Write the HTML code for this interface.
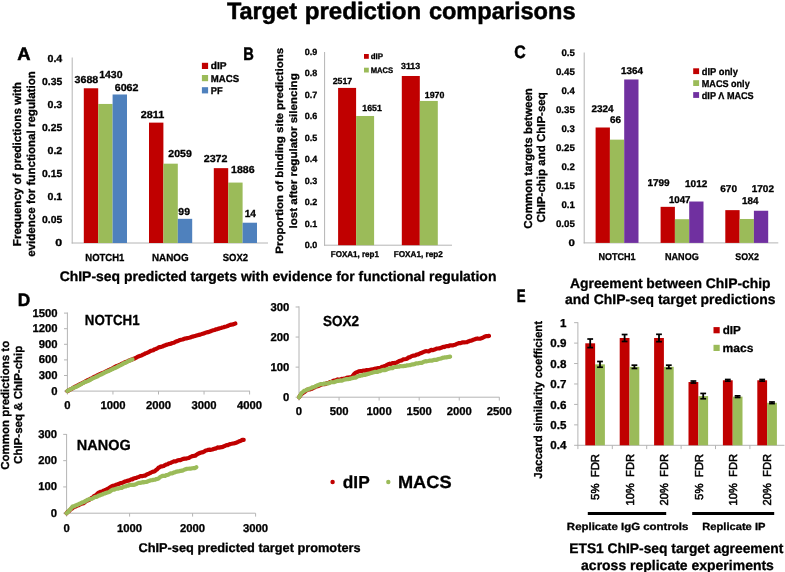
<!DOCTYPE html>
<html lang="en"><head><meta charset="utf-8"><title>Target prediction comparisons</title>
<style>
html,body{margin:0;padding:0;background:#fff;}
svg{display:block;font-family:'Liberation Sans', Arial, sans-serif;font-weight:bold;}
text{stroke:#000;stroke-width:0.3px;text-rendering:geometricPrecision;}
</style></head>
<body>
<svg width="785" height="572" viewBox="0 0 785 572">
<rect width="785" height="572" fill="#fff"/>
<text x="226.89" y="18.72" font-size="23.8" style="stroke-width:0.5px" textLength="70.13" lengthAdjust="spacingAndGlyphs">Target</text>
<text x="304.69" y="18.72" font-size="23.8" style="stroke-width:0.5px" textLength="116.43" lengthAdjust="spacingAndGlyphs">prediction</text>
<text x="428.89" y="18.72" font-size="23.8" style="stroke-width:0.5px" textLength="146.63" lengthAdjust="spacingAndGlyphs">comparisons</text>
<text x="17.36" y="59.84" font-size="18" style="stroke-width:0.5px" textLength="13.28" lengthAdjust="spacingAndGlyphs">A</text>
<line x1="72.2" y1="57.5" x2="72.2" y2="243.5" stroke="#b4b4b4" stroke-width="1"/>
<line x1="71.7" y1="243" x2="268" y2="243" stroke="#b4b4b4" stroke-width="1"/>
<text x="55.39" y="246.45" font-size="10.2" textLength="6.91" lengthAdjust="spacingAndGlyphs">0</text>
<text x="42.09" y="223.39" font-size="10.2" textLength="20.21" lengthAdjust="spacingAndGlyphs">0.05</text>
<text x="47.49" y="200.33" font-size="10.2" textLength="14.81" lengthAdjust="spacingAndGlyphs">0.1</text>
<text x="42.09" y="177.27" font-size="10.2" textLength="20.21" lengthAdjust="spacingAndGlyphs">0.15</text>
<text x="47.49" y="154.21" font-size="10.2" textLength="14.81" lengthAdjust="spacingAndGlyphs">0.2</text>
<text x="42.09" y="131.15" font-size="10.2" textLength="20.21" lengthAdjust="spacingAndGlyphs">0.25</text>
<text x="47.49" y="108.09" font-size="10.2" textLength="14.81" lengthAdjust="spacingAndGlyphs">0.3</text>
<text x="42.09" y="85.03" font-size="10.2" textLength="20.21" lengthAdjust="spacingAndGlyphs">0.35</text>
<text x="47.49" y="61.97" font-size="10.2" textLength="14.81" lengthAdjust="spacingAndGlyphs">0.4</text>
<rect x="83.8" y="88.27" width="14.4" height="154.73" fill="#C00000"/>
<rect x="98.2" y="103.95" width="14.4" height="139.05" fill="#9BBB59"/>
<rect x="112.6" y="94.49" width="14.4" height="148.51" fill="#4F81BD"/>
<rect x="149" y="122.63" width="14.4" height="120.37" fill="#C00000"/>
<rect x="163.4" y="163.67" width="14.4" height="79.33" fill="#9BBB59"/>
<rect x="177.8" y="218.83" width="14.4" height="24.17" fill="#4F81BD"/>
<rect x="213.8" y="168.15" width="14.4" height="74.85" fill="#C00000"/>
<rect x="228.2" y="182.58" width="14.4" height="60.42" fill="#9BBB59"/>
<rect x="242.6" y="222.71" width="14.4" height="20.29" fill="#4F81BD"/>
<text x="74.59" y="83.25" font-size="10.2" textLength="23.71" lengthAdjust="spacingAndGlyphs">3688</text>
<text x="99.19" y="77.55" font-size="10.2" textLength="23.31" lengthAdjust="spacingAndGlyphs">1430</text>
<text x="114.69" y="91.45" font-size="10.2" textLength="23.81" lengthAdjust="spacingAndGlyphs">6062</text>
<text x="140.69" y="118.15" font-size="10.2" textLength="23.51" lengthAdjust="spacingAndGlyphs">2811</text>
<text x="168.39" y="157.35" font-size="10.2" textLength="23.41" lengthAdjust="spacingAndGlyphs">2059</text>
<text x="178.39" y="214.65" font-size="10.2" textLength="11.61" lengthAdjust="spacingAndGlyphs">99</text>
<text x="203.69" y="162.25" font-size="10.2" textLength="23.81" lengthAdjust="spacingAndGlyphs">2372</text>
<text x="230.99" y="173.35" font-size="10.2" textLength="23.61" lengthAdjust="spacingAndGlyphs">1886</text>
<text x="244.69" y="217.45" font-size="10.2" textLength="11.31" lengthAdjust="spacingAndGlyphs">14</text>
<text x="85.29" y="261.49" font-size="10.3" textLength="39.02" lengthAdjust="spacingAndGlyphs">NOTCH1</text>
<text x="151.99" y="261.49" font-size="10.3" textLength="36.62" lengthAdjust="spacingAndGlyphs">NANOG</text>
<text x="222.79" y="261.49" font-size="10.3" textLength="25.22" lengthAdjust="spacingAndGlyphs">SOX2</text>
<rect x="201.9" y="62.8" width="6.2" height="6.2" fill="#C00000"/>
<text x="210.8" y="69.48" font-size="10" textLength="15.8" lengthAdjust="spacingAndGlyphs">dIP</text>
<rect x="201.9" y="75" width="6.2" height="6.2" fill="#9BBB59"/>
<text x="210.8" y="81.68" font-size="10" textLength="28.3" lengthAdjust="spacingAndGlyphs">MACS</text>
<rect x="201.9" y="87.2" width="6.2" height="6.2" fill="#4F81BD"/>
<text x="210.8" y="93.88" font-size="10" textLength="11.9" lengthAdjust="spacingAndGlyphs">PF</text>
<text transform="translate(21 164) rotate(-90)" font-size="11.5" text-anchor="middle" textLength="164.3" lengthAdjust="spacingAndGlyphs">Frequency of predictions with</text>
<text transform="translate(35.3 164) rotate(-90)" font-size="11.5" text-anchor="middle" textLength="185.5" lengthAdjust="spacingAndGlyphs">evidence for functional regulation</text>
<text x="59.68" y="280.98" font-size="13.9" textLength="436.73" lengthAdjust="spacingAndGlyphs">ChIP-seq predicted targets with evidence for functional regulation</text>
<text x="243.16" y="59.84" font-size="18" style="stroke-width:0.5px" textLength="10.58" lengthAdjust="spacingAndGlyphs">B</text>
<line x1="324.6" y1="52" x2="324.6" y2="245.7" stroke="#b4b4b4" stroke-width="1"/>
<line x1="324.1" y1="245.2" x2="452" y2="245.2" stroke="#b4b4b4" stroke-width="1"/>
<text x="317.3" y="248.42" font-size="9" text-anchor="end">0.0</text>
<text x="317.3" y="226.92" font-size="9" text-anchor="end">0.1</text>
<text x="317.3" y="205.42" font-size="9" text-anchor="end">0.2</text>
<text x="317.3" y="183.92" font-size="9" text-anchor="end">0.3</text>
<text x="317.3" y="162.42" font-size="9" text-anchor="end">0.4</text>
<text x="317.3" y="140.92" font-size="9" text-anchor="end">0.5</text>
<text x="317.3" y="119.42" font-size="9" text-anchor="end">0.6</text>
<text x="317.3" y="97.92" font-size="9" text-anchor="end">0.7</text>
<text x="317.3" y="76.42" font-size="9" text-anchor="end">0.8</text>
<text x="317.3" y="54.92" font-size="9" text-anchor="end">0.9</text>
<rect x="338.1" y="87.91" width="18" height="157.29" fill="#C00000"/>
<rect x="356.1" y="115.98" width="18" height="129.22" fill="#9BBB59"/>
<rect x="401.8" y="75.99" width="18" height="169.21" fill="#C00000"/>
<rect x="419.8" y="100.94" width="18" height="144.26" fill="#9BBB59"/>
<text x="342.45" y="84.05" font-size="8.8" text-anchor="middle">2517</text>
<text x="372.1" y="110.85" font-size="8.8" text-anchor="middle">1651</text>
<text x="410.6" y="68.85" font-size="8.8" text-anchor="middle">3113</text>
<text x="434.6" y="98.05" font-size="8.8" text-anchor="middle">1970</text>
<text x="330.75" y="256.64" font-size="8.5" textLength="48.21" lengthAdjust="spacingAndGlyphs">FOXA1, rep1</text>
<text x="393.75" y="256.64" font-size="8.5" textLength="49.11" lengthAdjust="spacingAndGlyphs">FOXA1, rep2</text>
<rect x="364" y="54" width="4.8" height="4.8" fill="#C00000"/>
<text x="370.66" y="59.3" font-size="8.1" textLength="12.29" lengthAdjust="spacingAndGlyphs">dIP</text>
<rect x="364" y="67.7" width="4.8" height="4.8" fill="#9BBB59"/>
<text x="370.66" y="73" font-size="8.1" textLength="22.49" lengthAdjust="spacingAndGlyphs">MACS</text>
<text transform="translate(282.5 150.8) rotate(-90)" font-size="10.6" text-anchor="middle" textLength="205.8" lengthAdjust="spacingAndGlyphs">Proportion of binding site predictions</text>
<text transform="translate(296.5 150.9) rotate(-90)" font-size="10.7" text-anchor="middle" textLength="155.2" lengthAdjust="spacingAndGlyphs">lost after regulator silencing</text>
<text x="514.26" y="57.64" font-size="18" style="stroke-width:0.5px" textLength="11.48" lengthAdjust="spacingAndGlyphs">C</text>
<line x1="584.2" y1="52.5" x2="584.2" y2="243.4" stroke="#b4b4b4" stroke-width="1"/>
<line x1="583.7" y1="242.9" x2="778.3" y2="242.9" stroke="#b4b4b4" stroke-width="1"/>
<text x="568.41" y="246.14" font-size="9.6" textLength="6.38" lengthAdjust="spacingAndGlyphs">0</text>
<text x="555.91" y="227.16" font-size="9.6" textLength="18.88" lengthAdjust="spacingAndGlyphs">0.05</text>
<text x="561.41" y="208.18" font-size="9.6" textLength="13.38" lengthAdjust="spacingAndGlyphs">0.1</text>
<text x="555.91" y="189.2" font-size="9.6" textLength="18.88" lengthAdjust="spacingAndGlyphs">0.15</text>
<text x="561.41" y="170.22" font-size="9.6" textLength="13.38" lengthAdjust="spacingAndGlyphs">0.2</text>
<text x="555.91" y="151.24" font-size="9.6" textLength="18.88" lengthAdjust="spacingAndGlyphs">0.25</text>
<text x="561.41" y="132.26" font-size="9.6" textLength="13.38" lengthAdjust="spacingAndGlyphs">0.3</text>
<text x="555.91" y="113.28" font-size="9.6" textLength="18.88" lengthAdjust="spacingAndGlyphs">0.35</text>
<text x="561.41" y="94.3" font-size="9.6" textLength="13.38" lengthAdjust="spacingAndGlyphs">0.4</text>
<text x="555.91" y="75.32" font-size="9.6" textLength="18.88" lengthAdjust="spacingAndGlyphs">0.45</text>
<text x="561.41" y="56.34" font-size="9.6" textLength="13.38" lengthAdjust="spacingAndGlyphs">0.5</text>
<rect x="595.6" y="127.5" width="14.3" height="115.4" fill="#C00000"/>
<rect x="609.9" y="139.65" width="14.3" height="103.25" fill="#9BBB59"/>
<rect x="624.2" y="79.48" width="14.3" height="163.42" fill="#7030A0"/>
<rect x="660.6" y="206.84" width="14.3" height="36.06" fill="#C00000"/>
<rect x="674.9" y="219.21" width="14.3" height="23.69" fill="#9BBB59"/>
<rect x="689.2" y="201.52" width="14.3" height="41.38" fill="#7030A0"/>
<rect x="725.3" y="210.14" width="14.3" height="32.76" fill="#C00000"/>
<rect x="739.6" y="218.99" width="14.3" height="23.91" fill="#9BBB59"/>
<rect x="753.9" y="210.75" width="14.3" height="32.15" fill="#7030A0"/>
<text x="591.51" y="111.91" font-size="9.8" textLength="22.09" lengthAdjust="spacingAndGlyphs">2324</text>
<text x="609.91" y="123.31" font-size="9.8" textLength="11.09" lengthAdjust="spacingAndGlyphs">66</text>
<text x="621.11" y="74.31" font-size="9.8" textLength="21.99" lengthAdjust="spacingAndGlyphs">1364</text>
<text x="647.41" y="186.41" font-size="9.8" textLength="22.29" lengthAdjust="spacingAndGlyphs">1799</text>
<text x="668.91" y="202.91" font-size="9.8" textLength="21.59" lengthAdjust="spacingAndGlyphs">1047</text>
<text x="685.01" y="187.21" font-size="9.8" textLength="22.29" lengthAdjust="spacingAndGlyphs">1012</text>
<text x="720.21" y="192.21" font-size="9.8" textLength="16.79" lengthAdjust="spacingAndGlyphs">670</text>
<text x="742.11" y="203.71" font-size="9.8" textLength="16.49" lengthAdjust="spacingAndGlyphs">184</text>
<text x="751.71" y="192.21" font-size="9.8" textLength="22.29" lengthAdjust="spacingAndGlyphs">1702</text>
<text x="598.51" y="260.21" font-size="9.8" textLength="37.09" lengthAdjust="spacingAndGlyphs">NOTCH1</text>
<text x="665.01" y="260.21" font-size="9.8" textLength="33.79" lengthAdjust="spacingAndGlyphs">NANOG</text>
<text x="735.31" y="260.21" font-size="9.8" textLength="23.59" lengthAdjust="spacingAndGlyphs">SOX2</text>
<rect x="693.2" y="68.3" width="5.9" height="5.8" fill="#C00000"/>
<text x="701.81" y="74.71" font-size="9.8" textLength="36.09" lengthAdjust="spacingAndGlyphs">dIP only</text>
<rect x="693.2" y="80.2" width="5.9" height="5.8" fill="#9BBB59"/>
<text x="701.81" y="86.61" font-size="9.8" textLength="47.89" lengthAdjust="spacingAndGlyphs">MACS only</text>
<rect x="693.2" y="92.1" width="5.9" height="5.8" fill="#7030A0"/>
<text x="701.81" y="98.51" font-size="9.8" textLength="51.89" lengthAdjust="spacingAndGlyphs">dIP Λ MACS</text>
<text transform="translate(531.6 158.4) rotate(-90)" font-size="11.5" text-anchor="middle">Common targets between</text>
<text transform="translate(544.9 157.4) rotate(-90)" font-size="11.5" text-anchor="middle">ChIP-chip and ChIP-seq</text>
<text x="569.98" y="287.68" font-size="13.9" textLength="200.63" lengthAdjust="spacingAndGlyphs">Agreement between ChIP-chip</text>
<text x="565.08" y="304.48" font-size="13.9" textLength="210.43" lengthAdjust="spacingAndGlyphs">and ChIP-seq target predictions</text>
<text x="17.86" y="306.44" font-size="18" style="stroke-width:0.5px" textLength="12.48" lengthAdjust="spacingAndGlyphs">D</text>
<line x1="67.4" y1="312.5" x2="67.4" y2="391.6" stroke="#b4b4b4" stroke-width="1"/>
<line x1="66.9" y1="391.1" x2="250" y2="391.1" stroke="#b4b4b4" stroke-width="1"/>
<line x1="64" y1="391.1" x2="67.4" y2="391.1" stroke="#b4b4b4" stroke-width="1"/>
<text x="57.6" y="394.65" font-size="11.3" text-anchor="end">0</text>
<line x1="64" y1="375.5" x2="67.4" y2="375.5" stroke="#b4b4b4" stroke-width="1"/>
<text x="57.6" y="379.05" font-size="11.3" text-anchor="end">300</text>
<line x1="64" y1="359.9" x2="67.4" y2="359.9" stroke="#b4b4b4" stroke-width="1"/>
<text x="57.6" y="363.45" font-size="11.3" text-anchor="end">600</text>
<line x1="64" y1="344.3" x2="67.4" y2="344.3" stroke="#b4b4b4" stroke-width="1"/>
<text x="57.6" y="347.85" font-size="11.3" text-anchor="end">900</text>
<line x1="64" y1="328.7" x2="67.4" y2="328.7" stroke="#b4b4b4" stroke-width="1"/>
<text x="57.6" y="332.25" font-size="11.3" text-anchor="end">1200</text>
<line x1="64" y1="313.1" x2="67.4" y2="313.1" stroke="#b4b4b4" stroke-width="1"/>
<text x="57.6" y="316.65" font-size="11.3" text-anchor="end">1500</text>
<line x1="67.4" y1="391.1" x2="67.4" y2="394.5" stroke="#b4b4b4" stroke-width="1"/>
<text x="67.4" y="409.15" font-size="11.3" text-anchor="middle">0</text>
<line x1="112.95" y1="391.1" x2="112.95" y2="394.5" stroke="#b4b4b4" stroke-width="1"/>
<text x="112.95" y="409.15" font-size="11.3" text-anchor="middle">1000</text>
<line x1="158.5" y1="391.1" x2="158.5" y2="394.5" stroke="#b4b4b4" stroke-width="1"/>
<text x="158.5" y="409.15" font-size="11.3" text-anchor="middle">2000</text>
<line x1="204.05" y1="391.1" x2="204.05" y2="394.5" stroke="#b4b4b4" stroke-width="1"/>
<text x="204.05" y="409.15" font-size="11.3" text-anchor="middle">3000</text>
<line x1="249.6" y1="391.1" x2="249.6" y2="394.5" stroke="#b4b4b4" stroke-width="1"/>
<text x="249.6" y="409.15" font-size="11.3" text-anchor="middle">4000</text>
<text x="84.86" y="325.13" font-size="14.6" textLength="54.68" lengthAdjust="spacingAndGlyphs">NOTCH1</text>
<path d="M67.4 391.1 L68.67 390.37 L69.93 389.64 L71.2 389.02 L72.46 388.38 L73.73 387.49 L74.99 386.67 L76.26 386.23 L77.52 385.45 L78.79 384.7 L80.05 384.3 L81.32 383.58 L82.58 383.03 L83.85 382.28 L85.11 381.64 L86.38 380.79 L87.64 380.22 L88.91 379.7 L90.18 378.97 L91.44 378.42 L92.71 377.82 L93.97 376.97 L95.24 376.51 L96.5 375.91 L97.77 375.2 L99.03 374.42 L100.3 374.06 L101.56 373.43 L102.83 372.9 L104.09 372.41 L105.36 371.8 L106.62 371.27 L107.89 370.5 L109.15 369.96 L110.42 369.25 L111.68 368.78 L112.95 368.23 L114.26 367.35 L115.56 366.61 L116.87 365.96 L118.17 365.64 L119.48 364.98 L120.78 364.42 L122.09 363.72 L123.4 363.14 L124.7 362.5 L126.01 361.87 L127.31 361.35 L128.62 360.79 L129.92 360.34 L131.23 359.73 L132.54 359.23 L133.83 358.69 L135.13 358.19 L136.43 357.54 L137.73 356.72 L139.03 356.29 L140.33 355.85 L141.62 355.32 L142.92 354.65 L144.22 354.08 L145.52 353.31 L146.82 352.89 L148.11 352.29 L149.41 351.6 L150.71 350.87 L152.01 350.54 L153.31 350.15 L154.61 349.33 L155.9 348.9 L157.2 348.26 L158.5 347.55 L159.77 347.09 L161.03 346.84 L162.3 346.54 L163.56 345.85 L164.83 345.51 L166.09 344.89 L167.36 344.63 L168.62 344.14 L169.89 343.89 L171.15 343.6 L172.42 343.05 L173.68 342.76 L174.95 342.12 L176.21 341.49 L177.48 341.15 L178.74 340.54 L180.01 340.08 L181.28 339.71 L182.54 339.47 L183.81 338.98 L185.07 338.51 L186.34 338.41 L187.6 337.97 L188.87 337.82 L190.13 337.55 L191.4 337.03 L192.66 336.61 L193.93 336.24 L195.19 335.91 L196.46 335.55 L197.72 335.18 L198.99 334.83 L200.25 334.6 L201.52 334.14 L202.78 333.68 L204.05 333.39 L205.36 332.82 L206.66 332.36 L207.97 332.19 L209.27 331.73 L210.58 331.3 L211.88 330.67 L213.19 330.3 L214.5 329.98 L215.8 329.4 L217.11 329.13 L218.41 328.81 L219.72 328.22 L221.02 327.94 L222.33 327.54 L223.64 327.22 L224.94 326.73 L226.25 326.42 L227.55 326.08 L228.86 325.42 L230.17 324.89 L231.47 324.66 L232.78 324.47 L234.08 323.89 L235.39 323.5" fill="none" stroke="#C00000" stroke-width="4.2" stroke-linecap="round" stroke-linejoin="round"/>
<path d="M67.4 391.1 L68.67 390.25 L69.93 389.67 L71.2 388.97 L72.46 388.26 L73.73 387.72 L74.99 387.34 L76.26 386.8 L77.52 386.2 L78.79 385.37 L80.05 384.76 L81.32 384.03 L82.58 383.3 L83.85 382.58 L85.11 381.95 L86.38 381.6 L87.64 381.08 L88.91 380.5 L90.18 379.89 L91.44 379.06 L92.71 378.37 L93.97 377.85 L95.24 377.33 L96.5 376.82 L97.77 376.28 L99.03 375.39 L100.3 374.84 L101.56 374.29 L102.83 373.64 L104.09 372.88 L105.36 372.31 L106.62 371.57 L107.89 371.23 L109.15 370.74 L110.42 370.07 L111.68 369.33 L112.95 368.9 L114.26 368.23 L115.56 367.71 L116.87 367.13 L118.17 366.39 L119.48 365.67 L120.78 365.06 L122.09 364.38 L123.4 363.62 L124.7 362.97 L126.01 362.54 L127.31 361.72 L128.62 360.98 L129.92 360.53 L131.23 359.86 L132.54 359.38" fill="none" stroke="#9BBB59" stroke-width="4.2" stroke-linecap="round" stroke-linejoin="round"/>
<line x1="299" y1="306.3" x2="299" y2="397.7" stroke="#b4b4b4" stroke-width="1"/>
<line x1="298.5" y1="397.2" x2="499.5" y2="397.2" stroke="#b4b4b4" stroke-width="1"/>
<line x1="295.6" y1="397.2" x2="299" y2="397.2" stroke="#b4b4b4" stroke-width="1"/>
<text x="289.3" y="400.75" font-size="11.3" text-anchor="end">0</text>
<line x1="295.6" y1="367.13" x2="299" y2="367.13" stroke="#b4b4b4" stroke-width="1"/>
<text x="289.3" y="370.68" font-size="11.3" text-anchor="end">100</text>
<line x1="295.6" y1="337.06" x2="299" y2="337.06" stroke="#b4b4b4" stroke-width="1"/>
<text x="289.3" y="340.61" font-size="11.3" text-anchor="end">200</text>
<line x1="295.6" y1="306.99" x2="299" y2="306.99" stroke="#b4b4b4" stroke-width="1"/>
<text x="289.3" y="310.54" font-size="11.3" text-anchor="end">300</text>
<line x1="299" y1="397.2" x2="299" y2="400.6" stroke="#b4b4b4" stroke-width="1"/>
<text x="299" y="414.65" font-size="11.3" text-anchor="middle">0</text>
<line x1="339.06" y1="397.2" x2="339.06" y2="400.6" stroke="#b4b4b4" stroke-width="1"/>
<text x="339.06" y="414.65" font-size="11.3" text-anchor="middle">500</text>
<line x1="379.12" y1="397.2" x2="379.12" y2="400.6" stroke="#b4b4b4" stroke-width="1"/>
<text x="379.12" y="414.65" font-size="11.3" text-anchor="middle">1000</text>
<line x1="419.18" y1="397.2" x2="419.18" y2="400.6" stroke="#b4b4b4" stroke-width="1"/>
<text x="419.18" y="414.65" font-size="11.3" text-anchor="middle">1500</text>
<line x1="459.24" y1="397.2" x2="459.24" y2="400.6" stroke="#b4b4b4" stroke-width="1"/>
<text x="459.24" y="414.65" font-size="11.3" text-anchor="middle">2000</text>
<line x1="499.3" y1="397.2" x2="499.3" y2="400.6" stroke="#b4b4b4" stroke-width="1"/>
<text x="499.3" y="414.65" font-size="11.3" text-anchor="middle">2500</text>
<text x="323.06" y="326.23" font-size="14.6" textLength="36.08" lengthAdjust="spacingAndGlyphs">SOX2</text>
<path d="M299 397.2 L300.2 395.67 L301.4 394.01 L302.74 393.22 L304.07 392.15 L305.41 391.27 L306.77 390.06 L308.13 389.57 L309.5 389.51 L310.86 389 L312.22 388.72 L313.58 387.65 L314.94 387.16 L316.31 386.48 L317.67 386.15 L319.03 385.78 L320.37 384.92 L321.7 384.44 L323.04 384.04 L324.37 384.21 L325.71 383.97 L327.04 383.11 L328.38 383.02 L329.71 382.19 L331.05 381.97 L332.38 381.22 L333.72 380.5 L335.05 380.71 L336.39 380.03 L337.72 379.47 L339.06 379.67 L340.4 379.61 L341.73 378.92 L343.07 379 L344.4 378.54 L345.74 378.27 L347.07 377.56 L348.41 377.7 L349.74 377.41 L351.08 377.37 L352.41 376.24 L353.75 374.55 L355.08 373.13 L356.42 372.43 L357.75 371.85 L359.09 371.28 L360.43 371.14 L361.76 371.21 L363.1 370.6 L364.43 370.75 L365.77 370.41 L367.1 370.08 L368.44 370.24 L369.77 369.91 L371.11 369.46 L372.44 369.24 L373.78 369.21 L375.11 368.49 L376.45 368.8 L377.78 368 L379.12 368.1 L380.46 367.92 L381.79 366.87 L383.13 366.77 L384.46 366.14 L385.8 365.77 L387.13 364.85 L388.47 364.17 L389.8 363.71 L391.14 363.94 L392.47 363.18 L393.81 363.06 L395.14 362.94 L396.48 362.68 L397.81 361.79 L399.15 361.1 L400.49 360.63 L401.82 360.37 L403.16 359.4 L404.49 359.22 L405.83 358.94 L407.16 358.61 L408.5 357.47 L409.83 357.43 L411.17 356.42 L412.5 355.86 L413.84 355.57 L415.17 355.46 L416.51 354.65 L417.84 354.51 L419.18 353.86 L420.52 353.22 L421.85 352.7 L423.19 352.13 L424.52 351.56 L425.86 351.15 L427.19 351.25 L428.53 351.42 L429.86 350.6 L431.2 349.88 L432.53 350.17 L433.87 349.76 L435.2 349.25 L436.54 348.66 L437.87 348.5 L439.21 348.45 L440.55 347.97 L441.88 347.53 L443.22 346.82 L444.55 347.05 L445.89 346.24 L447.22 346.07 L448.56 346.14 L449.89 345.4 L451.23 345.39 L452.56 345.43 L453.9 345.02 L455.23 344.8 L456.57 343.92 L457.9 343.58 L459.24 343 L460.54 343.15 L461.83 342.59 L463.13 342.28 L464.42 342.45 L465.72 342.27 L467.02 342.13 L468.31 341.44 L469.61 340.94 L470.9 340.74 L472.2 340.26 L473.49 339.67 L474.79 339.31 L476.09 338.73 L477.38 338.47 L478.68 338.73 L479.97 338.7 L481.27 338.24 L482.57 337.72 L483.86 337.15 L485.16 336.46 L486.45 336.1 L487.75 336.21 L489.04 335.86" fill="none" stroke="#C00000" stroke-width="4.2" stroke-linecap="round" stroke-linejoin="round"/>
<path d="M299 397.2 L300.2 395.53 L301.4 393.22 L302.81 392.07 L304.21 390.84 L305.61 390.38 L307.01 389.59 L308.35 389.29 L309.68 388.53 L311.02 388.21 L312.35 387.34 L313.69 387.07 L315.02 386.61 L316.36 385.81 L317.69 385.23 L319.03 384.79 L320.37 384.17 L321.7 384.05 L323.04 384.1 L324.37 383.54 L325.71 383.6 L327.04 383.42 L328.38 383.36 L329.71 382.76 L331.05 382.1 L332.38 382.27 L333.72 382.26 L335.05 381.82 L336.39 381.15 L337.72 380.77 L339.06 380.85 L340.35 380.4 L341.64 380.61 L342.94 380.26 L344.23 379.58 L345.52 379.47 L346.81 379.01 L348.11 379.13 L349.4 379.03 L350.69 378.49 L351.98 378.16 L353.27 377.89 L354.57 377.7 L355.86 377.61 L357.15 376.57 L358.44 376.16 L359.74 376 L361.03 375.51 L362.32 375.36 L363.61 374.69 L364.91 374.89 L366.2 374.54 L367.49 373.84 L368.78 373.81 L370.07 373.34 L371.37 372.83 L372.66 372.67 L373.95 372.14 L375.24 371.76 L376.54 372.01 L377.83 371.86 L379.12 371.01 L380.46 371.07 L381.79 370.26 L383.13 369.95 L384.46 370.14 L385.8 369.83 L387.13 369.23 L388.47 368.81 L389.8 368.43 L391.14 367.84 L392.47 368.14 L393.81 367.31 L395.14 367.02 L396.48 367.01 L397.81 366.53 L399.15 366.64 L400.49 366.02 L401.82 366.26 L403.16 366.22 L404.49 365.9 L405.83 365.84 L407.16 365.31 L408.5 365.28 L409.83 365.14 L411.17 364.72 L412.5 364.36 L413.84 364.28 L415.17 363.88 L416.51 363.28 L417.84 363.46 L419.18 363.03 L420.47 362.83 L421.76 362.86 L423.05 362.2 L424.33 361.58 L425.62 361.21 L426.91 361.3 L428.2 361.02 L429.49 360.65 L430.78 360.49 L432.07 360.71 L433.35 360.11 L434.64 359.79 L435.93 359.91 L437.22 359.61 L438.51 359.02 L439.8 358.75 L441.09 358.48 L442.37 357.91 L443.66 357.68 L444.95 357.37 L446.24 357.52 L447.53 357.05 L448.82 356.96 L450.11 356.61" fill="none" stroke="#9BBB59" stroke-width="4.2" stroke-linecap="round" stroke-linejoin="round"/>
<line x1="66.6" y1="434" x2="66.6" y2="513.7" stroke="#b4b4b4" stroke-width="1"/>
<line x1="66.1" y1="513.2" x2="255.5" y2="513.2" stroke="#b4b4b4" stroke-width="1"/>
<line x1="63.2" y1="513.2" x2="66.6" y2="513.2" stroke="#b4b4b4" stroke-width="1"/>
<text x="57" y="516.75" font-size="11.3" text-anchor="end">0</text>
<line x1="63.2" y1="486.93" x2="66.6" y2="486.93" stroke="#b4b4b4" stroke-width="1"/>
<text x="57" y="490.48" font-size="11.3" text-anchor="end">100</text>
<line x1="63.2" y1="460.66" x2="66.6" y2="460.66" stroke="#b4b4b4" stroke-width="1"/>
<text x="57" y="464.21" font-size="11.3" text-anchor="end">200</text>
<line x1="63.2" y1="434.39" x2="66.6" y2="434.39" stroke="#b4b4b4" stroke-width="1"/>
<text x="57" y="437.94" font-size="11.3" text-anchor="end">300</text>
<line x1="66.6" y1="513.2" x2="66.6" y2="516.6" stroke="#b4b4b4" stroke-width="1"/>
<text x="66.6" y="531.65" font-size="11.3" text-anchor="middle">0</text>
<line x1="129.6" y1="513.2" x2="129.6" y2="516.6" stroke="#b4b4b4" stroke-width="1"/>
<text x="129.6" y="531.65" font-size="11.3" text-anchor="middle">1000</text>
<line x1="192.6" y1="513.2" x2="192.6" y2="516.6" stroke="#b4b4b4" stroke-width="1"/>
<text x="192.6" y="531.65" font-size="11.3" text-anchor="middle">2000</text>
<line x1="255.6" y1="513.2" x2="255.6" y2="516.6" stroke="#b4b4b4" stroke-width="1"/>
<text x="255.6" y="531.65" font-size="11.3" text-anchor="middle">3000</text>
<text x="76.86" y="450.33" font-size="14.6" textLength="53.78" lengthAdjust="spacingAndGlyphs">NANOG</text>
<path d="M66.6 513.2 L67.86 511.75 L69.12 511.01 L70.38 509.62 L71.64 508.79 L72.9 507.71 L74.25 506.86 L75.6 506.54 L76.95 505.69 L78.3 505.32 L79.65 504.54 L81 503.87 L82.35 503.56 L83.66 503.18 L84.97 501.94 L86.29 500.96 L87.6 500.39 L88.91 499.97 L90.22 499.01 L91.54 497.92 L92.85 497.45 L94.16 495.97 L95.47 495.48 L96.79 494.31 L98.1 493.14 L99.41 492.32 L100.72 491.76 L102.04 491.62 L103.35 490.69 L104.66 490.25 L105.97 489.77 L107.29 488.98 L108.6 488.42 L109.91 487.39 L111.22 486.54 L112.54 485.91 L113.85 485.71 L115.16 485.22 L116.47 484.62 L117.79 484.31 L119.1 483.79 L120.41 483.14 L121.72 483 L123.04 482.61 L124.35 481.76 L125.66 481.37 L126.97 480.88 L128.29 480.7 L129.6 480.24 L130.91 479.47 L132.22 479.5 L133.54 478.56 L134.85 478.13 L136.16 478.03 L137.47 477.25 L138.79 476.95 L140.1 476.2 L141.41 476.17 L142.72 476.07 L144.04 475.66 L145.35 475.54 L146.7 474.54 L148.05 474.05 L149.4 473.4 L150.75 472.74 L152.1 471.98 L153.45 471.62 L154.8 471.23 L156.06 470.05 L157.32 469.17 L158.58 467.74 L159.84 467.13 L161.1 466.34 L162.41 466.3 L163.72 465.93 L165.04 465.06 L166.35 464.48 L167.66 464.23 L168.97 463.32 L170.29 463.03 L171.6 462.42 L172.91 461.85 L174.22 461.3 L175.54 461.45 L176.85 460.77 L178.16 460.31 L179.47 460 L180.79 460.08 L182.1 459.22 L183.41 458.9 L184.72 458.62 L186.04 458.58 L187.35 458.31 L188.66 458.02 L189.97 457.14 L191.29 456.6 L192.6 456.06 L193.91 455.96 L195.22 455.75 L196.54 454.68 L197.85 453.89 L199.16 453.27 L200.47 452.71 L201.79 452.4 L203.1 452.1 L204.41 451.41 L205.72 450.58 L207.04 450.26 L208.35 449.82 L209.66 449.68 L210.97 449.79 L212.29 449.46 L213.6 448.96 L214.91 448.62 L216.22 448.33 L217.54 447.45 L218.85 447.57 L220.16 447.37 L221.47 447.19 L222.79 446.87 L224.1 446.16 L225.36 445.71 L226.62 445.08 L227.88 445.09 L229.14 444.47 L230.4 444.01 L231.66 443.77 L232.92 443.47 L234.18 443.35 L235.44 442.91 L236.7 442.5 L238.1 441.87 L239.5 441.18 L240.9 440.72 L242.29 439.86 L243.69 439.91" fill="none" stroke="#C00000" stroke-width="4.2" stroke-linecap="round" stroke-linejoin="round"/>
<path d="M66.6 513.2 L67.86 512.17 L69.12 510.39 L70.38 509.34 L71.64 507.62 L72.9 506.23 L74.25 506.29 L75.6 505.37 L76.95 505 L78.3 504.37 L79.65 503.77 L81 503.22 L82.35 502.4 L83.66 502.28 L84.97 501.3 L86.29 500.65 L87.6 499.85 L88.91 499.39 L90.22 499.01 L91.54 499.01 L92.85 498.28 L94.16 497.4 L95.47 496.8 L96.79 496.88 L98.1 495.85 L99.41 495.53 L100.72 494.9 L102.04 494.55 L103.35 493.83 L104.66 493.5 L105.97 492.9 L107.29 492.46 L108.6 492.2 L109.91 491.52 L111.22 490.51 L112.54 489.63 L113.85 489.7 L115.16 489.25 L116.47 488.57 L117.79 488.71 L119.1 488.29 L120.41 488.02 L121.72 487.85 L123.04 487.05 L124.35 486.5 L125.66 486.51 L126.97 485.67 L128.29 485.61 L129.6 484.81 L130.91 484.84 L132.22 484.76 L133.54 484.81 L134.85 484.63 L136.16 484.11 L137.47 483.42 L138.79 482.89 L140.1 482.81 L141.41 482.64 L142.72 482.03 L144.04 482.33 L145.35 482.01 L146.7 481.9 L148.05 481.28 L149.4 480.85 L150.75 480.28 L152.1 480.15 L153.45 479.89 L154.8 479.77 L156.06 479.13 L157.32 478.87 L158.58 478.48 L159.84 477.31 L161.1 476.56 L162.41 475.92 L163.72 475.84 L165.04 475.9 L166.35 475.06 L167.66 474.93 L168.97 474.26 L170.29 473.45 L171.6 473.51 L172.91 472.98 L174.22 472.36 L175.54 472.08 L176.85 471.57 L178.15 471.35 L179.45 471.11 L180.74 470.82 L182.04 470.67 L183.34 470.18 L184.64 469.59 L185.93 469.11 L187.23 468.73 L188.53 468.75 L189.83 468.48 L191.13 468.58 L192.42 468.23 L193.72 468.08 L195.02 468.1 L196.32 467.23" fill="none" stroke="#9BBB59" stroke-width="4.2" stroke-linecap="round" stroke-linejoin="round"/>
<text transform="translate(8.7 405.3) rotate(-90)" font-size="11.5" text-anchor="middle">Common predictions to</text>
<text transform="translate(22.4 404.8) rotate(-90)" font-size="11.5" text-anchor="middle">ChIP-seq &amp; ChIP-chip</text>
<text x="138.52" y="551.75" font-size="12.7" textLength="222.06" lengthAdjust="spacingAndGlyphs">ChIP-seq predicted target promoters</text>
<circle cx="332.6" cy="482" r="2.2" fill="#C00000"/>
<circle cx="388.3" cy="482" r="2.2" fill="#9BBB59"/>
<text x="342.8" y="488.09" font-size="17.3">dIP</text>
<text x="397.97" y="488.2" font-size="17.6" textLength="53.56" lengthAdjust="spacingAndGlyphs">MACS</text>
<text x="516.66" y="301.74" font-size="18" style="stroke-width:0.5px" textLength="8.88" lengthAdjust="spacingAndGlyphs">E</text>
<line x1="577.9" y1="322.3" x2="577.9" y2="445.8" stroke="#b4b4b4" stroke-width="1"/>
<line x1="577.4" y1="445.3" x2="784.5" y2="445.3" stroke="#b4b4b4" stroke-width="1"/>
<line x1="574.1" y1="445.3" x2="577.9" y2="445.3" stroke="#b4b4b4" stroke-width="1"/>
<text x="566.4" y="449.45" font-size="11.6" text-anchor="end">0.4</text>
<line x1="574.1" y1="424.86" x2="577.9" y2="424.86" stroke="#b4b4b4" stroke-width="1"/>
<text x="566.4" y="429.01" font-size="11.6" text-anchor="end">0.5</text>
<line x1="574.1" y1="404.42" x2="577.9" y2="404.42" stroke="#b4b4b4" stroke-width="1"/>
<text x="566.4" y="408.57" font-size="11.6" text-anchor="end">0.6</text>
<line x1="574.1" y1="383.98" x2="577.9" y2="383.98" stroke="#b4b4b4" stroke-width="1"/>
<text x="566.4" y="388.13" font-size="11.6" text-anchor="end">0.7</text>
<line x1="574.1" y1="363.54" x2="577.9" y2="363.54" stroke="#b4b4b4" stroke-width="1"/>
<text x="566.4" y="367.69" font-size="11.6" text-anchor="end">0.8</text>
<line x1="574.1" y1="343.1" x2="577.9" y2="343.1" stroke="#b4b4b4" stroke-width="1"/>
<text x="566.4" y="347.25" font-size="11.6" text-anchor="end">0.9</text>
<line x1="574.1" y1="322.66" x2="577.9" y2="322.66" stroke="#b4b4b4" stroke-width="1"/>
<text x="566.4" y="326.81" font-size="11.6" text-anchor="end">1</text>
<line x1="612.3" y1="445.3" x2="612.3" y2="449.1" stroke="#b4b4b4" stroke-width="1"/>
<rect x="585.3" y="343.3" width="9.8" height="102" fill="#C00000"/>
<line x1="590.2" y1="339.01" x2="590.2" y2="347.6" stroke="#000" stroke-width="1.8"/>
<line x1="587.3" y1="339.01" x2="593.1" y2="339.01" stroke="#000" stroke-width="1.7"/>
<line x1="587.3" y1="347.6" x2="593.1" y2="347.6" stroke="#000" stroke-width="1.7"/>
<rect x="595.1" y="364.36" width="9.8" height="80.94" fill="#9BBB59"/>
<line x1="600" y1="361.5" x2="600" y2="367.22" stroke="#000" stroke-width="1.8"/>
<line x1="597.1" y1="361.5" x2="602.9" y2="361.5" stroke="#000" stroke-width="1.7"/>
<line x1="597.1" y1="367.22" x2="602.9" y2="367.22" stroke="#000" stroke-width="1.7"/>
<line x1="646.7" y1="445.3" x2="646.7" y2="449.1" stroke="#b4b4b4" stroke-width="1"/>
<rect x="619.7" y="337.99" width="9.8" height="107.31" fill="#C00000"/>
<line x1="624.6" y1="334.52" x2="624.6" y2="341.46" stroke="#000" stroke-width="1.8"/>
<line x1="621.7" y1="334.52" x2="627.5" y2="334.52" stroke="#000" stroke-width="1.7"/>
<line x1="621.7" y1="341.46" x2="627.5" y2="341.46" stroke="#000" stroke-width="1.7"/>
<rect x="629.5" y="366.81" width="9.8" height="78.49" fill="#9BBB59"/>
<line x1="634.4" y1="365.18" x2="634.4" y2="368.45" stroke="#000" stroke-width="1.8"/>
<line x1="631.5" y1="365.18" x2="637.3" y2="365.18" stroke="#000" stroke-width="1.7"/>
<line x1="631.5" y1="368.45" x2="637.3" y2="368.45" stroke="#000" stroke-width="1.7"/>
<line x1="681.1" y1="445.3" x2="681.1" y2="449.1" stroke="#b4b4b4" stroke-width="1"/>
<rect x="654.1" y="337.99" width="9.8" height="107.31" fill="#C00000"/>
<line x1="659" y1="334.31" x2="659" y2="341.67" stroke="#000" stroke-width="1.8"/>
<line x1="656.1" y1="334.31" x2="661.9" y2="334.31" stroke="#000" stroke-width="1.7"/>
<line x1="656.1" y1="341.67" x2="661.9" y2="341.67" stroke="#000" stroke-width="1.7"/>
<rect x="663.9" y="366.81" width="9.8" height="78.49" fill="#9BBB59"/>
<line x1="668.8" y1="365.18" x2="668.8" y2="368.45" stroke="#000" stroke-width="1.8"/>
<line x1="665.9" y1="365.18" x2="671.7" y2="365.18" stroke="#000" stroke-width="1.7"/>
<line x1="665.9" y1="368.45" x2="671.7" y2="368.45" stroke="#000" stroke-width="1.7"/>
<line x1="715.5" y1="445.3" x2="715.5" y2="449.1" stroke="#b4b4b4" stroke-width="1"/>
<rect x="688.5" y="382.04" width="9.8" height="63.26" fill="#C00000"/>
<line x1="693.4" y1="381.02" x2="693.4" y2="383.06" stroke="#000" stroke-width="1.8"/>
<line x1="690.5" y1="381.02" x2="696.3" y2="381.02" stroke="#000" stroke-width="1.7"/>
<line x1="690.5" y1="383.06" x2="696.3" y2="383.06" stroke="#000" stroke-width="1.7"/>
<rect x="698.3" y="396.1" width="9.8" height="49.2" fill="#9BBB59"/>
<line x1="703.2" y1="393.44" x2="703.2" y2="398.76" stroke="#000" stroke-width="1.8"/>
<line x1="700.3" y1="393.44" x2="706.1" y2="393.44" stroke="#000" stroke-width="1.7"/>
<line x1="700.3" y1="398.76" x2="706.1" y2="398.76" stroke="#000" stroke-width="1.7"/>
<line x1="749.9" y1="445.3" x2="749.9" y2="449.1" stroke="#b4b4b4" stroke-width="1"/>
<rect x="722.9" y="380.3" width="9.8" height="65" fill="#C00000"/>
<line x1="727.8" y1="379.48" x2="727.8" y2="381.12" stroke="#000" stroke-width="1.8"/>
<line x1="724.9" y1="379.48" x2="730.7" y2="379.48" stroke="#000" stroke-width="1.7"/>
<line x1="724.9" y1="381.12" x2="730.7" y2="381.12" stroke="#000" stroke-width="1.7"/>
<rect x="732.7" y="396.65" width="9.8" height="48.65" fill="#9BBB59"/>
<line x1="737.6" y1="395.84" x2="737.6" y2="397.47" stroke="#000" stroke-width="1.8"/>
<line x1="734.7" y1="395.84" x2="740.5" y2="395.84" stroke="#000" stroke-width="1.7"/>
<line x1="734.7" y1="397.47" x2="740.5" y2="397.47" stroke="#000" stroke-width="1.7"/>
<rect x="757.3" y="380.3" width="9.8" height="65" fill="#C00000"/>
<line x1="762.2" y1="379.48" x2="762.2" y2="381.12" stroke="#000" stroke-width="1.8"/>
<line x1="759.3" y1="379.48" x2="765.1" y2="379.48" stroke="#000" stroke-width="1.7"/>
<line x1="759.3" y1="381.12" x2="765.1" y2="381.12" stroke="#000" stroke-width="1.7"/>
<rect x="767.1" y="402.78" width="9.8" height="42.52" fill="#9BBB59"/>
<line x1="772" y1="401.97" x2="772" y2="403.6" stroke="#000" stroke-width="1.8"/>
<line x1="769.1" y1="401.97" x2="774.9" y2="401.97" stroke="#000" stroke-width="1.7"/>
<line x1="769.1" y1="403.6" x2="774.9" y2="403.6" stroke="#000" stroke-width="1.7"/>
<line x1="577.9" y1="445.3" x2="577.9" y2="449.1" stroke="#b4b4b4" stroke-width="1"/>
<text transform="translate(599.4 454) rotate(-90)" font-size="11.5" text-anchor="end" font-weight="normal" textLength="45.9" lengthAdjust="spacingAndGlyphs" style="stroke-width:0.55px">5%  FDR</text>
<text transform="translate(633.8 454) rotate(-90)" font-size="11.5" text-anchor="end" font-weight="normal" textLength="51.4" lengthAdjust="spacingAndGlyphs" style="stroke-width:0.55px">10%  FDR</text>
<text transform="translate(668.2 454) rotate(-90)" font-size="11.5" text-anchor="end" font-weight="normal" textLength="51.4" lengthAdjust="spacingAndGlyphs" style="stroke-width:0.55px">20%  FDR</text>
<text transform="translate(702.6 454) rotate(-90)" font-size="11.5" text-anchor="end" font-weight="normal" textLength="45.9" lengthAdjust="spacingAndGlyphs" style="stroke-width:0.55px">5%  FDR</text>
<text transform="translate(737 454) rotate(-90)" font-size="11.5" text-anchor="end" font-weight="normal" textLength="51.4" lengthAdjust="spacingAndGlyphs" style="stroke-width:0.55px">10%  FDR</text>
<text transform="translate(771.4 454) rotate(-90)" font-size="11.5" text-anchor="end" font-weight="normal" textLength="51.4" lengthAdjust="spacingAndGlyphs" style="stroke-width:0.55px">20%  FDR</text>
<rect x="713.5" y="327.1" width="6.2" height="6.2" fill="#C00000"/>
<text x="722.7" y="334.35" font-size="11.6">dIP</text>
<rect x="713.5" y="344.8" width="6.2" height="6.2" fill="#9BBB59"/>
<text x="722.55" y="351.85" font-size="11.6" textLength="30.8" lengthAdjust="spacingAndGlyphs">macs</text>
<text transform="translate(541.7 399.8) rotate(-90)" font-size="11.5" text-anchor="middle">Jaccard similarity coefficient</text>
<line x1="587.8" y1="513.5" x2="666.2" y2="513.5" stroke="#000" stroke-width="3"/>
<line x1="692.2" y1="513.5" x2="774.2" y2="513.5" stroke="#000" stroke-width="3"/>
<text x="566.89" y="530.02" font-size="10.4" textLength="121.52" lengthAdjust="spacingAndGlyphs">Replicate IgG controls</text>
<text x="702.29" y="530.02" font-size="10.4" textLength="63.12" lengthAdjust="spacingAndGlyphs">Replicate IP</text>
<text x="569.28" y="552.98" font-size="13.9" textLength="214.03" lengthAdjust="spacingAndGlyphs">ETS1 ChIP-seq target agreement</text>
<text x="581.08" y="570.08" font-size="13.9" textLength="192.83" lengthAdjust="spacingAndGlyphs">across replicate experiments</text>
</svg>
</body></html>
